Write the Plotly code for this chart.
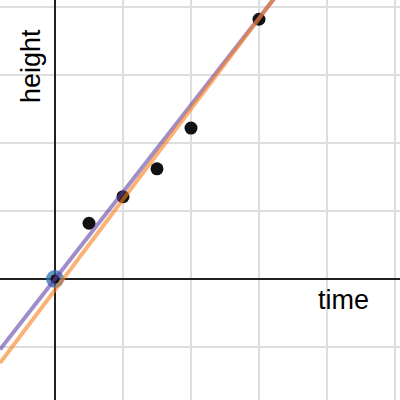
import plotly.graph_objects as go
import numpy as np

# data (grid unit = 1)
time_vals = [0, 0.5, 1.0, 1.5, 2.0, 3.0]
height_vals = [0, 0.82, 1.21, 1.62, 2.22, 3.82]

# fitted lines: slope, intercept
purple_slope, purple_intercept = 1.28, 0.0
orange_slope, orange_intercept = 1.33, -0.16

x_range = [-55 / 68, 345 / 68]
y_range = [-121 / 68, 279 / 68]

xs = np.array(x_range)

fig = go.Figure()

# halo on first point
fig.add_trace(go.Scatter(x=[time_vals[0]], y=[height_vals[0]], mode="markers",
                         marker=dict(size=18, color="rgba(45,112,179,0.75)"),
                         hoverinfo="skip", showlegend=False))
fig.add_trace(go.Scatter(x=time_vals[:1], y=height_vals[:1], mode="markers",
                         marker=dict(size=9, color="#111111"), showlegend=False))
fig.add_trace(go.Scatter(x=time_vals[1:], y=height_vals[1:], mode="markers",
                         marker=dict(size=13, color="#111111"), showlegend=False))

fig.add_trace(go.Scatter(x=xs, y=purple_slope * xs + purple_intercept, mode="lines",
                         line=dict(color="rgba(96,66,166,0.6)", width=4), showlegend=False))
fig.add_trace(go.Scatter(x=xs, y=orange_slope * xs + orange_intercept, mode="lines",
                         line=dict(color="rgba(250,126,25,0.6)", width=4), showlegend=False))

axis_common = dict(showticklabels=False, ticks="", dtick=1, tick0=0,
                   showgrid=True, gridcolor="#dedede", gridwidth=1.5,
                   zeroline=True, zerolinecolor="#222222", zerolinewidth=2,
                   showline=False, fixedrange=True)

fig.update_layout(
    width=400, height=400,
    margin=dict(l=0, r=0, t=0, b=0),
    paper_bgcolor="white", plot_bgcolor="white",
    xaxis=dict(range=x_range, **axis_common),
    yaxis=dict(range=y_range, **axis_common),
    annotations=[
        dict(text="time", x=0.8575, y=0.25, xref="paper", yref="paper",
             showarrow=False, font=dict(family="Liberation Sans, Arial", size=27, color="#000000"),
             xanchor="center", yanchor="middle"),
        dict(text="height", x=0.0775, y=0.835, xref="paper", yref="paper",
             showarrow=False, textangle=-90,
             font=dict(family="Liberation Sans, Arial", size=27, color="#000000"),
             xanchor="center", yanchor="middle"),
    ],
)

fig.write_html("out.html",
               config={"displayModeBar": False},
               post_script="document.body.style.margin='0';document.body.style.padding='0';document.body.style.overflow='hidden';")
